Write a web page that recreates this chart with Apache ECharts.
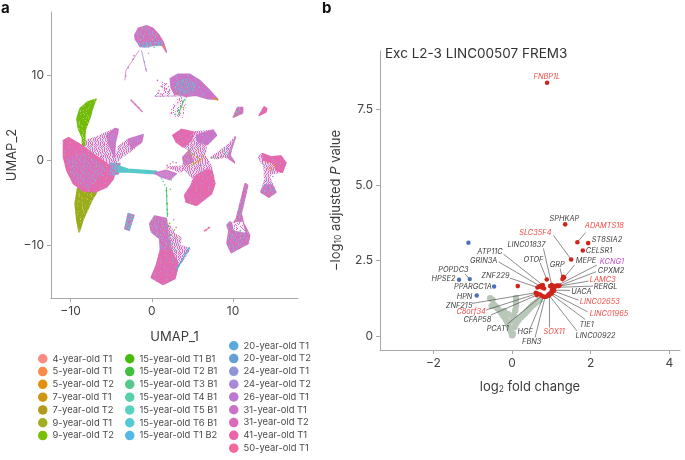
<!DOCTYPE html>
<html><head><meta charset="utf-8">
<style>html,body{margin:0;padding:0;background:#fff}#c{width:685px;height:460px}</style>
<script src="https://cdn.jsdelivr.net/npm/echarts@6/dist/echarts.min.js"></script>
</head><body><div id="c"></div>
<script>
// ---------- UMAP panel: sample names ----------
const sampleNames=["4-year-old T1","5-year-old T1","5-year-old T2","7-year-old T1","7-year-old T2","9-year-old T1","9-year-old T2",
"15-year-old T1 B1","15-year-old T2 B1","15-year-old T3 B1","15-year-old T4 B1","15-year-old T5 B1","15-year-old T6 B1","15-year-old T1 B2",
"20-year-old T1","20-year-old T2","24-year-old T1","24-year-old T2","26-year-old T1","31-year-old T1","31-year-old T2","41-year-old T1","50-year-old T1"];
const sampleColors=["#fb8a80","#f98c48","#e38f10","#cf9612","#b39a1c","#a3ad20","#78bf08","#45bb0c","#40bf40","#55c98c","#58d0aa","#58d2c0","#55c8d6","#55b8e2","#5aa8dc","#669fd8","#8f96d8","#a98ad8","#bd78d4","#cc6fc8","#dd6ab8","#ec64a8","#f5689c"];
// scattered cells, per sample
const cells4T1=[[1.9,-0.9],[4.7,0.9],[2.6,-10.2],[-0.4,12.6],[14.6,-1.2],[10.4,-7.2]];
const cells5T1=[[7.6,7.3],[7.9,7.2],[5.6,-0.2],[4.9,-0.5],[1.6,13.2],[6.2,0.2]];
const cells5T2=[[8.0,7.15],[7.8,7.2],[5.8,-0.1],[5.2,-0.4],[1.4,13.4],[14.6,-0.9],[6.0,0.1]];
const cells7T1=[[5.9,0.0],[5.4,-0.3],[4.6,-0.7],[14.8,-1.1],[8.1,7.1],[15.2,-0.6]];
const cells7T2=[[5.1,-0.2],[6.3,0.5],[4.9,0.6],[14.3,-0.3],[3.1,7.8],[5.7,1.3]];
const cells9T1=[[-8.9,-7.9],[-9.0,-7.2],[-8.6,-6.4],[5.2,0.7],[4.5,1.2],[2.8,-8.2]];
const cells9T2=[[-7.1,6.9],[-7.4,6.5],[5.6,0.4],[2.2,-7.4],[3.9,6.2],[10.3,5.3]];
const cells15a=[[1.85,-4.2],[1.9,-5.1],[1.8,-3.6],[3.6,6.3],[3.4,5.6],[2.3,-8.8],[7.4,0.3]];
const cells15b=[[1.9,-5.8],[1.95,-6.3],[2.1,-7.8],[3.8,6.9],[3.3,5.9],[8.2,0.3],[2.5,-9.8]];
const cells15c=[[1.6,-2.9],[1.4,-2.5],[2.3,-3.4],[3.0,-9.2],[4.1,7.1],[8.6,0.5],[10.6,5.7]];
const cells15d=[[1.2,-2.2],[2.4,-2.3],[2.9,-10.6],[2.9,5.4],[9.0,0.8],[-2.8,-7.6]];
const cells15e=[[-0.2,-1.4],[-1.1,-1.2],[-2.1,-1.2],[8.9,1.1],[0.3,13.3],[-2.6,-6.9]];
const cells15f=[[-3.4,-0.9],[-1.6,-1.3],[-0.6,-1.3],[9.3,1.4],[-0.4,13.3],[10.8,-6.0]];
const cells15g=[[4.2,-10.9],[3.8,-11.6],[3.4,-12.4],[-0.9,13.4],[13.9,-2.9],[15.0,-3.5]];
const cells20a=[[4.4,-10.6],[3.6,-12.0],[4.6,8.7],[10.2,-9.4],[14.1,-2.4],[6.0,-0.6]];
const cells20b=[[4.9,8.4],[3.8,8.9],[10.9,-8.3],[14.4,-3.3],[5.0,1.4],[2.6,-11.8]];
const cells24a=[[4.2,9.2],[5.4,8.8],[10.0,-8.9],[5.6,1.9],[2.3,-9.6],[14.9,-1.9]];
const cells24b=[[3.6,8.1],[5.8,8.4],[11.1,-9.4],[4.6,2.6],[6.6,1.0],[2.7,-7.0]];
const cells26=[[-3.2,9.9],[-2.9,10.9],[-2.3,11.9],[-0.9,11.6],[1.2,8.7],[7.0,-0.2]];
const cells31a=[[-2.0,6.6],[-1.6,6.2],[1.8,9.0],[0.8,7.9],[0.7,9.4],[3.0,-0.3]];
const cells31b=[[-2.2,12.3],[-0.7,10.7],[2.1,8.1],[3.2,6.8],[2.4,5.5],[2.3,-0.4],[3.0,-7.9]];
const cells41=[[2.6,-0.2],[6.7,-8.2],[7.0,-7.9],[1.6,8.4],[1.1,7.8],[11.2,-3.8]];
const cells50=[[6.5,-8.3],[1.9,-0.6],[2.8,8.6],[0.9,8.2],[5.3,0.2],[11.5,-3.1]];
const sampleCells=[cells4T1,cells5T1,cells5T2,cells7T1,cells7T2,cells9T1,cells9T2,cells15a,cells15b,cells15c,cells15d,cells15e,cells15f,cells15g,cells20a,cells20b,cells24a,cells24b,cells26,cells31a,cells31b,cells41,cells50];

// ---------- UMAP panel: dense cell clouds, outlines ----------
const blobTop=[[-2.08,14.7],[-1.67,15.5],[-0.65,15.84],[0.16,15.5],[0.9,14.7],[1.39,13.92],[1.8,12.75],[1.31,13.53],[0.16,13.65],[-0.86,13.53],[-1.47,13.53],[-2.0,14.2]];
const blobTopEdge=[[-1.6,13.7],[0.2,13.85],[1.1,13.9],[1.31,13.53],[0.16,13.5],[-0.86,13.35],[-1.47,13.4]];
const blobNE=[[2.29,9.6],[3.22,10.12],[4.65,10.12],[5.88,9.41],[6.9,8.43],[8.12,7.18],[6.9,7.25],[5.47,7.65],[4.24,7.53],[2.82,7.8],[2.4,8.55]];
const blobNEcore=[[3.0,9.2],[4.5,9.6],[5.4,8.9],[5.0,8.0],[3.6,7.9],[2.9,8.3]];
const blobNEleft=[[1.0,9.2],[2.4,8.8],[2.9,7.6],[0.37,7.53],[1.39,8.24]];
const blobNEstem=[[2.2,5.29],[2.61,6.27],[3.22,7.45],[4.24,7.45],[3.84,5.1]];
const leafGreen=[[-6.86,7.18],[-7.92,6.86],[-8.82,6.08],[-9.22,4.9],[-9.02,3.73],[-8.53,2.67],[-8.49,1.76],[-8.29,1.76],[-8.2,3.53],[-7.59,5.1],[-7.18,6.47]];
const leafOlive=[[-9.14,-3.33],[-9.43,-5.1],[-9.22,-7.06],[-8.94,-8.43],[-8.41,-6.86],[-7.39,-4.71],[-6.78,-3.73]];
const blobMain=[[-10.86,2.35],[-10.24,2.67],[-8.61,1.76],[-6.98,0.59],[-5.55,-0.39],[-4.53,-1.18],[-4.73,-2.16],[-5.55,-3.14],[-6.98,-3.73],[-8.41,-3.61],[-9.63,-2.75],[-10.45,-1.18],[-10.86,0.39]];
const blobMainMix=[[-10.3,0.2],[-8.3,0.8],[-6.4,-0.4],[-5.6,-1.0],[-6.6,-2.2],[-8.0,-3.2],[-9.4,-2.4],[-10.2,-1.0]];
const wingA=[[-8.61,2.16],[-6.78,2.75],[-4.53,3.73],[-4.12,3.61],[-4.53,1.96],[-4.53,-0.39],[-5.55,-0.39],[-6.98,0.59]];
const wingAcore=[[-5.55,2.94],[-4.53,3.73],[-4.12,3.61],[-4.53,1.96],[-4.61,0.39],[-5.14,1.57]];
const wingB=[[-4.53,-0.39],[-4.12,1.57],[-3.1,2.35],[-1.06,3.02],[-1.27,2.16],[-2.49,1.18],[-3.92,0.2]];
const wingBcore=[[-2.9,2.47],[-1.06,3.02],[-1.27,2.16],[-2.49,1.37]];
const tealKnot=[[-5.14,-0.39],[-3.92,-0.39],[-4.12,-1.57],[-4.94,-1.76]];
const tealBridge=[[-4.12,-0.67],[-2.9,-1.06],[0.57,-1.29],[0.57,-1.57],[-2.9,-1.37],[-4.12,-1.37]];
const blobHub=[[0.37,-1.49],[1.8,-1.18],[3.02,-1.57],[2.2,-2.27],[1.18,-1.96]];
const blobHubTail=[[2,-0.78],[4.24,-0.67],[5.88,-0.08],[5.88,-0.39],[3.43,-1.37]];
const blobMid=[[2.62,2.94],[3.65,3.61],[5.08,3.33],[7.55,3.53],[7.95,2.94],[6.72,1.76],[6.52,0.59],[7.34,-0.78],[7.75,-2.75],[7.34,-3.92],[5.5,-5.29],[4.26,-4.9],[4.06,-4.12],[4.88,-2.94],[5.08,-2.16],[3.85,-0.78],[3.85,0.39],[4.67,1.18],[3.03,2.16]];
const blobMidUL=[[2.62,2.94],[3.65,3.61],[5.08,3.33],[4.88,2.35],[3.85,1.57],[3.03,2.16]];
const blobMidUR=[[5.49,2.94],[7.55,3.53],[7.95,2.94],[6.8,1.88],[5.7,2.16]];
const blobMidBranch=[[3.85,0.39],[4.67,1.18],[5.08,-0.39],[4.06,-0.78]];
const blobMidLow=[[5.29,-1.96],[6.52,-1.18],[7.34,-1.18],[7.75,-2.75],[7.34,-3.92],[5.5,-5.29],[4.26,-4.9],[4.06,-4.12],[4.88,-2.94]];
const triangle=[[7.31,0.31],[9.55,1.96],[10.29,2.75],[9.76,1.18],[9.63,0.59],[10.2,-0.27],[9.14,0.39],[7.92,0.2]];
const triangleTip=[[9.7,1.4],[10.29,2.75],[9.76,1.18],[9.63,0.59],[10.2,-0.27],[9.3,0.4]];
const islandA=[[10.04,5.1],[10.57,6.2],[11.18,6.2],[11.18,5.57]];
const islandB=[[13.22,5.29],[13.84,6.27],[14.16,6.08],[14.04,5.69]];
const islandSmall=[[-3.31,-8.04],[-2.9,-6.27],[-2.2,-6.47],[-2.78,-8.24]];
const blobE=[[13.14,0.39],[13.63,0.78],[14.65,0.39],[15.88,0.51],[16.49,-0.27],[16.08,-1.37],[14.65,-1.57],[14.45,-1.96],[15.27,-3.73],[14.45,-4.31],[13.43,-3.73],[13.92,-2.35],[13.84,-0.78]];
const blobEtop=[[13.63,0.78],[14.65,0.39],[15.88,0.51],[16.49,-0.27],[16.08,-1.37],[15.3,-1.2],[15.0,-0.3],[13.8,0.0]];
const blobElow=[[13.9,-2.9],[14.8,-2.9],[15.27,-3.73],[14.45,-4.31],[13.43,-3.73]];
const blobSE=[[9.26,-7.65],[9.6,-7.26],[10,-7.45],[10.42,-6.86],[10.82,-5.3],[11.51,-2.75],[11.8,-2.94],[11.39,-4.71],[11.0,-6.27],[11.3,-7.45],[12.05,-8.82],[11.85,-9.8],[9.8,-10.86],[9.26,-9.8],[9.5,-8.24]];
const blobSEgap=[[10.0,-7.4],[11.1,-7.3],[11.4,-8.4],[10.2,-8.2]];
const blobSouth=[[-0.25,-7.45],[0.37,-6.55],[1.8,-6.86],[2.0,-8.63],[2.42,-10.59],[3.24,-12.35],[2.83,-13.92],[1.39,-14.6],[-0.04,-13.8],[0.58,-12.35],[1.07,-10.6],[0.98,-9.2],[-0.04,-8.43]];
const blobSouthLow=[[1.07,-10.6],[2.42,-10.59],[3.24,-12.35],[2.83,-13.92],[1.39,-14.6],[-0.04,-13.8],[0.58,-12.35]];
const blobSouthSide=[[2.0,-7.45],[2.83,-8.63],[3.65,-9.2],[3.44,-10],[4.67,-10.4],[3.65,-11.96],[3.04,-12.35],[2.42,-10.59],[2,-8.63]];
const umapRegions=[
 [wingA,"sparse",1],[wingAcore,"mauve",.9],[wingB,"sparse",1],[wingBcore,"mauve",.9],
 [leafGreen,"green",1],[leafOlive,"olive",1],[blobMain,"pink",1],[blobMainMix,"mix",.75],[tealKnot,"mixTeal",1],[tealBridge,"teal",1],
 [blobTop,"mix",1],[blobTopEdge,"mixTeal",.9],[blobNEleft,"faint",1],[blobNEstem,"faint",1],[blobNE,"mauve",1],[blobNEcore,"mixTeal",.7],
 [blobMid,"sparse",1],[blobMidUL,"pink",1],[blobMidUR,"mauve",1],[blobMidBranch,"mix",.9],[blobMidLow,"pink",1],[blobHub,"mauve",.9],[blobHubTail,"sparse",1],
 [triangle,"sparse",1],[triangleTip,"mix",.7],[islandA,"mix",1],[islandB,"pink",1],[islandSmall,"mixTeal",1],
 [blobE,"sparse",1],[blobEtop,"pink",1],[blobElow,"mix",1],
 [blobSE,"mix",1],[blobSEgap,"faint",1],
 [blobSouthSide,"sparse",1],[blobSouth,"mix",1],[blobSouthLow,"pink",.85]
];
const threadNW=[[-1.55,12.94],[-3.18,10.59],[-3.31,9.41]];
const threadN=[[-1.27,12.94],[-0.65,10.39]];
const threadS=[[1.8,-3.14],[1.92,-6.67]];
const threadSE=[[4.65,-10.2],[3.02,-12.94]];
const threadStem=[[4.04,7.25],[3.22,5.29]];
const threadLone=[[-2.61,7.14],[-1.14,5.69]];
const threadTiny=[[6.49,-8.31],[7.18,-7.84]];
const threadHub=[[0.37,7.53],[4.0,7.6]];
const umapThreads=[[threadNW,"#d87cc0",.8],[threadN,"#a08ac8",.8],[threadS,"#58c890",1.1],[threadSE,"#5aa8dc",1.3],[threadStem,"#55c98c",1],[threadLone,"#d88cc8",1.6],[threadTiny,"#e878a8",1.2],[threadHub,"#c08ccc",.7]];

// ---------- Volcano panel ----------
const geneNames=["FNBP1L","SPHKAP","ADAMTS18","ST8SIA2","CELSR1","SLC35F4","MEPE","GRP","KCNG1","CPXM2","LAMC3","RERGL","UACA","LINC02653","LINC01965","TIE1","LINC00922","SOX11","FBN3","HGF","PCAT1","CFAP58","C8orf34","ZNF215","ZNF229","GRIN3A","ATP11C","LINC01837","OTOF"];
const geneFC=[0.89,1.35,1.66,1.934,1.798,1.501,1.323,1.281,1.153,1.179,1.094,1.052,1.009,1.035,0.992,0.967,0.925,0.95,0.84,0.797,0.755,0.628,0.645,0.602,0.645,0.712,0.78,1.009,0.882];
const geneP=[8.39,3.7,3.11,3.079,2.836,2.538,1.942,1.887,1.678,1.655,1.633,1.611,1.523,1.501,1.435,1.413,1.379,1.357,1.302,1.302,1.335,1.357,1.412,1.435,1.611,1.655,1.688,1.688,1.876];
const redExtraFC=[0.144,0.695,0.755,0.814,0.712,0.865,0.925,1.009,1.069,0.967,1.035,1.12,1.204,1.3];
const redExtraP=[1.655,1.633,1.611,1.578,1.38,1.302,1.335,1.413,1.501,1.655,1.655,1.666,1.678,1.96];
const downNames=["POPDC3","HPSE2","PPARGC1A","HPN",""];
const downFC=[-1.077,-1.349,-0.458,-0.899,-1.111];
const downP=[1.887,1.865,1.644,1.346,3.09];
const nsFC=[-0.56,-0.5,-0.46,-0.52,-0.42,-0.37,-0.32,-0.28,-0.24,-0.2,-0.16,-0.12,-0.09,-0.06,-0.03,0,0.02,0.1,0.1,0.1,0.08,0.05,0.06,0.1,0.14,0.18,0.23,0.28,0.33,0.38,0.43,0.48,0.53,0.58,0.64,0.7,-0.2,-0.1,0.02,0.01];
const nsP=[1.25,1.2,1.03,1.0,0.98,0.92,0.85,0.78,0.7,0.64,0.55,0.45,0.35,0.25,0.15,0.03,0.08,1.26,1.12,1.0,0.85,0.7,0.3,0.42,0.5,0.57,0.63,0.7,0.76,0.82,0.9,0.96,1.03,1.08,1.14,1.2,0.82,0.72,0.5,0.6];
const tickX=[-2,0,2,4], tickY=[0,2.5,5,7.5], umapTicks=[-10,0,10];
const titleRight="Exc L2-3 LINC00507 FREM3";

// ---------- label placement (data coordinates) ----------
const placement={
 FNBP1L:[0.885,8.6,"center"],SPHKAP:[1.33,3.87,"center"],ADAMTS18:[1.85,3.64,"left",1.87,3.43],ST8SIA2:[2.027,3.2,"left"],CELSR1:[1.874,2.836,"left"],
 SLC35F4:[1.0,3.41,"right",1.052,3.333],MEPE:[1.62,2.483,"left",1.586,2.351],GRP:[1.145,2.362,"center",1.221,2.24],KCNG1:[2.231,2.461,"left",2.154,2.351],
 CPXM2:[2.18,2.174,"left",2.137,2.13],LAMC3:[1.976,1.876,"left",1.942,1.821],RERGL:[2.078,1.633,"left",2.053,1.655],UACA:[1.501,1.468,"left",1.476,1.512],
 LINC02653:[1.722,1.137,"left",1.688,1.192],LINC01965:[1.976,0.739,"left",1.917,0.805],TIE1:[1.713,0.386,"left",1.858,0.552],LINC00922:[1.611,0.011,"left",1.645,0.176],
 SOX11:[1.069,0.132,"center",0.95,0.287],FBN3:[0.5,-0.177,"center",0.585,-0.044],HGF:[0.331,0.132,"center",0.458,0.254],PCAT1:[-0.365,0.253,"center",-0.119,0.397],
 CFAP58:[-0.882,0.552,"center",-0.543,0.695],C8orf34:[-1.043,0.794,"center",-0.67,0.861],ZNF215:[-1.349,1.004,"center",-1.026,1.081],ZNF229:[-0.424,1.986,"center",-0.051,1.92],
 GRIN3A:[-0.373,2.505,"right",-0.348,2.461],ATP11C:[-0.238,2.792,"right",-0.22,2.715],LINC01837:[0.365,3.024,"center",0.797,2.902],OTOF:[0.543,2.538,"center",0.712,2.428],
 POPDC3:[-1.493,2.207,"center",-1.196,2.053],HPSE2:[-1.442,1.887,"right"],PPARGC1A:[-0.517,1.622,"right"],HPN:[-1.009,1.302,"right"]
};
const redText=new Set(["FNBP1L","ADAMTS18","SLC35F4","LAMC3","LINC02653","LINC01965","SOX11","C8orf34"]);
const purpleText=new Set(["KCNG1"]);

// ---------- speckle textures ----------
const tileColors={p:"#d86cb8",m:"#c878cc",r:"#ee68a8",b:"#8f9fd8",t:"#62c4c8",c:"#b08ad0",d:"#94b0cc",g:"#9ac870",G:"#74bc0c",L:"#a4d858",O:"#9aab1c",Q:"#bcc850",T:"#55c8cc"};
const toneDown=rows=>rows.map(r=>r.replace(/b/g,"c").replace(/t/g,"d"));
const tiles={
 mix:toneDown(["pmrbmpbmrpmt","mrpptmprmpbm","bmpbprmmtrpm","mpprmgpbmrmp","rbmtmrpmptmb","pmbmpbmrbmpp","mtpmrtpmpgrb","bpmbpmtprmpm","pbmrpmbpmbpr","mptbmpbmprmt","rmpmgprmbptm","pmbprmtmbmpb"]),
 mixTeal:["tmbbmtbmrtmt","mbtptmpbmtbm","bmtbprmbtbpm","gpbtmgpbmtmb","tbmtmbpmptmb","pmbmtbmbbmtp","mtbmbtpmpgtb","bpmbtmtbtmbm","pbmtpmbpmbtb","mptbmtbgpbmt","bmtmgpbmbptm","tmbtbmtmbmpb"],
 pink:toneDown(["rprrmprrprpr","prrpprrmrrpr","rrmprrprprrm","rprrmrtprrrp","prrprrprprrr","rmrbrprrmrpr","prrrprmrrbrp","rrprrtrprrpm","mprrmrrprprr","rrprrprrmrrp","prgrrprbrprr","rrprmrrprrmr"]),
 mauve:toneDown(["mmpmbmmpmmpm","pmmmpmbmmpmm","mbmpmmmpmmbm","mmpmmtmpmbmp","pmmbmpmmmpmm","mmpmmmmbmpmm","mbmmpmpmmmpb","mpmmbmmpmtmm","mmmpmmbmmpmm","bmpmmpmmpmmb","mmtmbmmpmmpm","pmmpmmbmmmpm"]),
 sparse:["p.m.p..mr.p.",".r..m.p..m.b","m.p..b.r.p..",".m.t.m..m..p","p..m.p.m.r..",".b.r..m..p.m","m..p.g.p..m.","..m.p..r.m.p","p.r..m.t..b.",".m..p.m.p..m","r..b..p.m.r.",".p.m.r..p..m"],
 faint:["p....m...b..","...t....p...",".m.....r...m","....g.m.....","r.........p.","...m..b.....",".....p....m.","t.........r.","...r..m.....","m.....p...b.","....b.....p.","..p....m...."],
 green:["GGGGLGGGGGGG","GGGGGGGLGGGG","GLGGGGGGGGLG","GGGGGLGGGGGG","GGGGGGGGGLGG","GGLGGGGGGGGG","GGGGGGGLGGGL","GGGGLGGGGGGG","LGGGGGGGGGGG","GGGGGGLGGGGG","GGLGGGGGGLGG","GGGGGGGGGGGG"],
 olive:["OOOQOOOOOOOO","OOOOOOOQOOOO","OQOOOOOOOOQO","OOOOOQOOOOOO","OOOOOOOOOQOO","OOQOOOOOOOOO","OOOOOOOQOOOQ","OOOOQOOOOOOO","QOOOOOOOOOOO","OOOOOOQOOOOO","OOQOOOOOOQOO","OOOOOOOOOOOO"],
 teal:["TTTTTTbTTTTT","TTTtTTTTTTTT","TTTTTTTTgTTT","TbTTTTTTTTTT","TTTTTtTTTTTT","TTTTTTTTTTbT"]
};
const tileWash={sparse:"#f0d6ec",faint:"#fbf1fa"};
const rowShifts=[0,5,2,9,7,3,11,1,8,4,10,6,3,0,7,10,2,5,9,1,6,11,4,8,5,2,0,7,11,3,8,10,1,6,4,9];
function makeTile(rows,wash){
 const w=rows[0].length*3,h=36;
 const c=document.createElement("canvas");c.width=w;c.height=h;
 const x=c.getContext("2d");
 if(wash){x.fillStyle=wash;x.fillRect(0,0,w,h);}
 for(let j=0;j<h;j++){const row=rows[j%rows.length];
  for(let i=0;i<w;i++){const ch=row[(i+rowShifts[j])%row.length];
   if(tileColors[ch]){x.fillStyle=tileColors[ch];x.fillRect(i,j,1,1);}}}
 const big=document.createElement("canvas");big.width=w*3;big.height=h*3;
 const bx=big.getContext("2d");bx.filter="blur(0.55px)";
 for(let a=0;a<3;a++)for(let b=0;b<3;b++)bx.drawImage(c,a*w,b*h);
 const out=document.createElement("canvas");out.width=w;out.height=h;
 out.getContext("2d").drawImage(big,-w,-h);
 return {image:out,repeat:"repeat"};
}
const patterns={};Object.keys(tiles).forEach(k=>patterns[k]=makeTile(tiles[k],tileWash[k]));

// ---------- option ----------
const FONT="Inter";
const axisBase={axisLine:{show:true,onZero:false,lineStyle:{color:"#a8a8a8",width:1}},axisTick:{show:true,length:4,lineStyle:{color:"#a8a8a8"}},splitLine:{show:false},nameTextStyle:{fontFamily:FONT,color:"#3c3c3c"}};
const minus=v=>String(v).replace("-","\u2212");
const series=[];
series.push({type:"custom",coordinateSystem:"cartesian2d",xAxisIndex:0,yAxisIndex:0,silent:true,z:1,
 data:umapRegions.map(r=>r[0][0]),
 renderItem:(p,api)=>{const r=umapRegions[p.dataIndex];
  return {type:"polygon",shape:{points:r[0].map(q=>api.coord(q))},style:{fill:patterns[r[1]],stroke:patterns[r[1]],lineWidth:1.6,lineJoin:"round",opacity:r[2]}};}});
series.push({type:"custom",coordinateSystem:"cartesian2d",xAxisIndex:0,yAxisIndex:0,silent:true,z:2,
 data:umapThreads.map(r=>r[0][0]),
 renderItem:(p,api)=>{const r=umapThreads[p.dataIndex];
  return {type:"polyline",shape:{points:r[0].map(q=>api.coord(q))},style:{stroke:r[1],lineWidth:r[2],fill:"none"}};}});
sampleNames.forEach((n,i)=>series.push({type:"scatter",name:n,xAxisIndex:0,yAxisIndex:0,data:sampleCells[i],symbolSize:1.6,z:3,silent:true,itemStyle:{color:sampleColors[i],opacity:1},emphasis:{disabled:true}}));
// volcano
series.push({type:"scatter",xAxisIndex:1,yAxisIndex:1,data:nsFC.map((x,i)=>[x,nsP[i]]),symbolSize:6.5,z:3,silent:true,itemStyle:{color:"#b8c7b8",opacity:1}});
const leaderData=[];
geneNames.forEach((g,i)=>leaderData.push([geneFC[i],geneP[i],g]));
downNames.forEach((g,i)=>{if(g)leaderData.push([downFC[i],downP[i],g]);});
series.push({type:"custom",coordinateSystem:"cartesian2d",xAxisIndex:1,yAxisIndex:1,silent:true,z:4,
 data:leaderData,
 renderItem:(p,api)=>{const d=leaderData[p.dataIndex],pl=placement[d[2]],kids=[];
  const a=api.coord([d[0],d[1]]);
  if(pl.length>3){const b=api.coord([pl[3],pl[4]]);kids.push({type:"line",shape:{x1:a[0],y1:a[1],x2:b[0],y2:b[1]},style:{stroke:"#3f3f3f",lineWidth:.6}});}
  const t=api.coord([pl[0],pl[1]]);
  const col=redText.has(d[2])?"#ee4b45":purpleText.has(d[2])?"#c44fd0":"#3f3f3f";
  kids.push({type:"text",x:t[0],y:t[1],style:{text:d[2],fill:col,font:"italic 7.4px "+FONT,align:pl[2],verticalAlign:"middle"}});
  return {type:"group",children:kids};}});
series.push({type:"scatter",xAxisIndex:1,yAxisIndex:1,data:geneFC.map((x,i)=>[x,geneP[i]]).concat(redExtraFC.map((x,i)=>[x,redExtraP[i]])),symbolSize:4.6,z:5,silent:true,itemStyle:{color:"#cf2419",opacity:1}});
series.push({type:"scatter",xAxisIndex:1,yAxisIndex:1,data:downFC.map((x,i)=>[x,downP[i]]),symbolSize:4.4,z:5,silent:true,itemStyle:{color:"#4a70b8",opacity:1}});

const legendBase={orient:"vertical",icon:"circle",padding:0,height:125,itemWidth:9.5,itemHeight:9.5,itemGap:3.3,selectedMode:false,textStyle:{fontFamily:FONT,fontSize:9.4,color:"#4a4a4a"}};
const option={
 animation:false,backgroundColor:"#fff",textStyle:{fontFamily:FONT},
 title:[
  {text:"a",left:1,top:1,textStyle:{fontFamily:FONT,fontSize:15,fontWeight:"bold",color:"#111"},padding:0},
  {text:"b",left:322,top:1,textStyle:{fontFamily:FONT,fontSize:15,fontWeight:"bold",color:"#111"},padding:0},
  {text:titleRight,left:385,top:47,textStyle:{fontFamily:FONT,fontSize:13.5,fontWeight:"normal",color:"#333"},padding:0}
 ],
 legend:[
  {...legendBase,left:38,top:354,data:sampleNames.slice(0,7)},
  {...legendBase,left:125,top:354,data:sampleNames.slice(7,14)},
  {...legendBase,left:229,top:341,data:sampleNames.slice(14)}
 ],
 grid:[{left:51,top:12,width:247,height:286},{left:380,top:51,width:300,height:299}],
 xAxis:[
  {...axisBase,gridIndex:0,type:"value",min:-12.4,max:18,name:"UMAP_1",nameLocation:"middle",nameGap:33,nameTextStyle:{fontFamily:FONT,fontSize:13,color:"#3c3c3c"},
   axisTick:{...axisBase.axisTick,customValues:umapTicks},axisLabel:{customValues:umapTicks,fontFamily:FONT,fontSize:12,color:"#444",margin:7,formatter:minus}},
  {...axisBase,gridIndex:1,type:"value",min:-3.36,max:4.27,name:"{n|log}{s|2}{n| fold change}",nameLocation:"middle",nameGap:31,
   nameTextStyle:{rich:{n:{fontFamily:FONT,fontSize:13,color:"#3c3c3c"},s:{fontFamily:FONT,fontSize:8.5,color:"#3c3c3c",verticalAlign:"bottom",padding:[5,0,0,0],lineHeight:10}}},
   axisTick:{...axisBase.axisTick,customValues:tickX},axisLabel:{customValues:tickX,fontFamily:FONT,fontSize:12,color:"#444",margin:7,formatter:minus}}
 ],
 yAxis:[
  {...axisBase,gridIndex:0,type:"value",min:-16.2,max:17.45,name:"UMAP_2",nameLocation:"middle",nameGap:32,nameTextStyle:{fontFamily:FONT,fontSize:13,color:"#3c3c3c"},
   axisTick:{...axisBase.axisTick,customValues:umapTicks},axisLabel:{customValues:umapTicks,fontFamily:FONT,fontSize:12,color:"#444",margin:7,formatter:minus}},
  {...axisBase,gridIndex:1,type:"value",min:-0.46,max:9.44,name:"{n|\u2212log}{s|10}{n| adjusted }{i|P}{n| value}",nameLocation:"middle",nameGap:37,
   nameTextStyle:{rich:{n:{fontFamily:FONT,fontSize:13,color:"#3c3c3c"},i:{fontFamily:FONT,fontStyle:"italic",fontSize:13,color:"#3c3c3c"},s:{fontFamily:FONT,fontSize:8.5,color:"#3c3c3c",verticalAlign:"bottom",padding:[5,0,0,0],lineHeight:10}}},
   axisTick:{...axisBase.axisTick,customValues:tickY},axisLabel:{customValues:tickY,fontFamily:FONT,fontSize:12,color:"#444",margin:7,formatter:v=>v===0?"0":v.toFixed(1)}}
 ],
 series
};
echarts.init(document.getElementById("c")).setOption(option);
</script></body></html>
